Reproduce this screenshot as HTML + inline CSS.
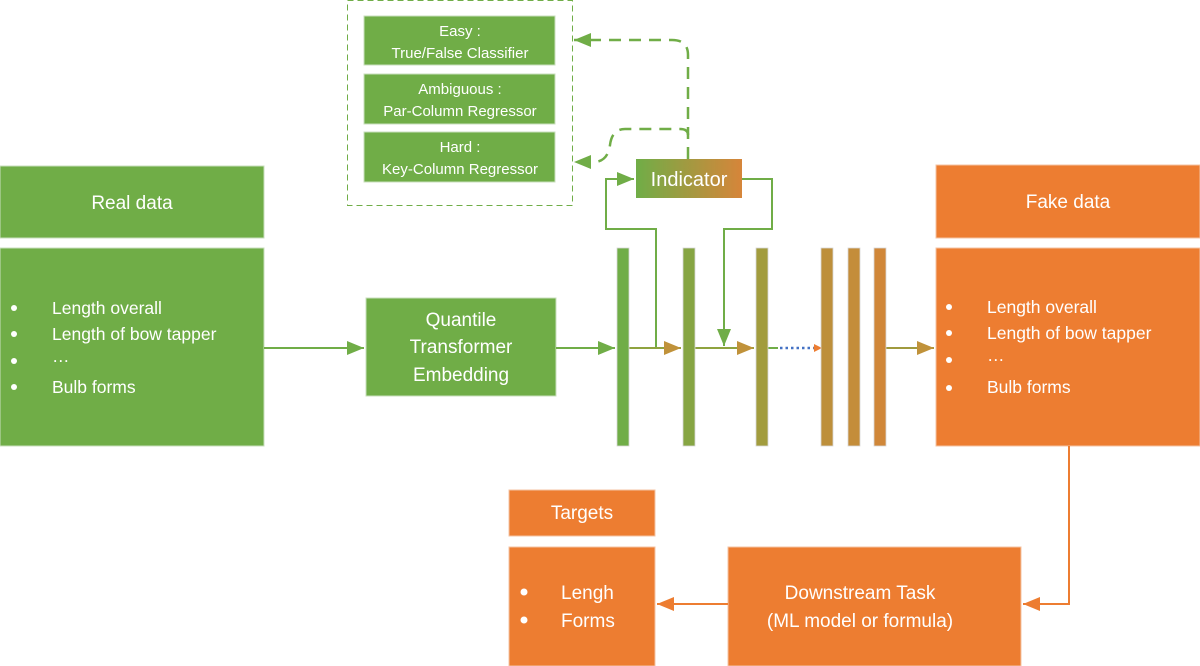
<!DOCTYPE html>
<html><head><meta charset="utf-8"><style>
html,body{margin:0;padding:0;background:#fff}
svg{display:block}
text{font-family:"Liberation Sans",sans-serif;fill:#fff}
</style></head><body>
<svg width="1200" height="666" viewBox="0 0 1200 666" xmlns="http://www.w3.org/2000/svg">
<defs>
<linearGradient id="ind" x1="0" x2="1" y1="0" y2="0"><stop offset="0" stop-color="#70ad47"/><stop offset="1" stop-color="#d6853a"/></linearGradient>
<marker id="ag" markerWidth="10" markerHeight="10" refX="9" refY="5" orient="auto" markerUnits="userSpaceOnUse"><path d="M0,0 L10,5 L0,10 z" fill="#70ad47"/></marker>
<marker id="ag2" markerWidth="18" markerHeight="14" refX="17" refY="7" orient="auto" markerUnits="userSpaceOnUse"><path d="M0,0 L17,7 L0,14 z" fill="#70ad47"/></marker>
<marker id="ay" markerWidth="18" markerHeight="14" refX="17" refY="7" orient="auto" markerUnits="userSpaceOnUse"><path d="M0,0 L17,7 L0,14 z" fill="#c0923a"/></marker>
<marker id="ao" markerWidth="18" markerHeight="14" refX="17" refY="7" orient="auto" markerUnits="userSpaceOnUse"><path d="M0,0 L17,7 L0,14 z" fill="#ed7d31"/></marker>
<marker id="aos" markerWidth="8" markerHeight="8" refX="7" refY="4" orient="auto" markerUnits="userSpaceOnUse"><path d="M0,0 L8,4 L0,8 z" fill="#ed7d31"/></marker>
</defs>

<!-- dashed group -->
<rect x="347.5" y="0.5" width="225" height="205" fill="none" stroke="#70ad47" stroke-dasharray="6,4" stroke-width="1"/>
<rect x="364" y="16" width="191" height="49" fill="#70ad47" stroke="#c9dfbd"/>
<rect x="364" y="74" width="191" height="50" fill="#70ad47" stroke="#c9dfbd"/>
<rect x="364" y="132" width="191" height="50" fill="#70ad47" stroke="#c9dfbd"/>
<g font-size="15" text-anchor="middle">
<text x="460" y="36">Easy :</text><text x="460" y="58">True/False Classifier</text>
<text x="460" y="94">Ambiguous :</text><text x="460" y="116">Par-Column Regressor</text>
<text x="460" y="152">Hard :</text><text x="460" y="174">Key-Column Regressor</text>
</g>

<!-- dashed arrows -->
<path d="M688,159 L688,55 Q688,40 672,40 L574,40" fill="none" stroke="#70ad47" stroke-width="2.5" stroke-dasharray="12,8" marker-end="url(#ag2)"/>
<path d="M688,135 Q688,129 680,129 L625,129 Q612,129 610,145 Q608,160 596,162 L574,162" fill="none" stroke="#70ad47" stroke-width="2.5" stroke-dasharray="12,8" marker-end="url(#ag2)"/>

<!-- indicator -->
<rect x="636" y="159" width="106" height="39" fill="url(#ind)"/>
<text x="689" y="186" font-size="20" text-anchor="middle">Indicator</text>
<path d="M656,348 L656,229 L606,229 L606,179 L634,179" fill="none" stroke="#70ad47" stroke-width="2" marker-end="url(#ag2)"/>
<path d="M742,179 L772,179 L772,229 L724,229 L724,346" fill="none" stroke="#70ad47" stroke-width="2" marker-end="url(#ag2)"/>

<!-- real data -->
<rect x="0" y="166" width="264" height="72" fill="#70ad47" stroke="#c9dfbd"/>
<text x="132" y="209" font-size="19" text-anchor="middle">Real data</text>
<rect x="0" y="248" width="264" height="198" fill="#70ad47" stroke="#c9dfbd"/>
<g font-size="17.5">
<circle cx="14" cy="308" r="3" fill="#fff"/><text x="52" y="314">Length overall</text>
<circle cx="14" cy="334" r="3" fill="#fff"/><text x="52" y="340">Length of bow tapper</text>
<circle cx="14" cy="361" r="3" fill="#fff"/><text x="52" y="362">…</text>
<circle cx="14" cy="387" r="3" fill="#fff"/><text x="52" y="393">Bulb forms</text>
</g>

<!-- quantile -->
<rect x="366" y="298" width="190" height="98" fill="#70ad47" stroke="#c9dfbd"/>
<g font-size="19" text-anchor="middle">
<text x="461" y="326">Quantile</text><text x="461" y="353">Transformer</text><text x="461" y="381">Embedding</text>
</g>

<!-- main line -->
<path d="M264,348 L364,348" stroke="#70ad47" stroke-width="2" marker-end="url(#ag2)"/>
<path d="M556,348 L615,348" stroke="#70ad47" stroke-width="2" marker-end="url(#ag2)"/>
<path d="M629,348 L681,348" stroke="#8fa33f" stroke-width="2" marker-end="url(#ay)"/>
<path d="M695,348 L754,348" stroke="#8fa33f" stroke-width="2" marker-end="url(#ay)"/>
<path d="M768,348 L778,348" stroke="#70ad47" stroke-width="2"/>
<path d="M780,348 L814,348" stroke="#4472c4" stroke-width="2.5" stroke-dasharray="2.5,3"/>
<path d="M813,348 L821,348" stroke="#ed7d31" stroke-width="1" marker-end="url(#aos)"/>
<path d="M886,348 L934,348" stroke="#a09a3e" stroke-width="2" marker-end="url(#ay)"/>

<!-- bars -->
<rect x="617" y="248" width="12" height="198" fill="#70ad47" stroke="#d8d8d8" stroke-width="0.8"/>
<rect x="683" y="248" width="12" height="198" fill="#86a543" stroke="#d8d8d8" stroke-width="0.8"/>
<rect x="756" y="248" width="12" height="198" fill="#a29c3e" stroke="#d8d8d8" stroke-width="0.8"/>
<rect x="821" y="248" width="12" height="198" fill="#bd8f3b" stroke="#d8d8d8" stroke-width="0.8"/>
<rect x="848" y="248" width="12" height="198" fill="#c48d3a" stroke="#d8d8d8" stroke-width="0.8"/>
<rect x="874" y="248" width="12" height="198" fill="#d08739" stroke="#d8d8d8" stroke-width="0.8"/>

<!-- fake data -->
<rect x="936" y="165" width="264" height="73" fill="#ed7d31" stroke="#f4c3a3"/>
<text x="1068" y="208" font-size="19" text-anchor="middle">Fake data</text>
<rect x="936" y="248" width="264" height="198" fill="#ed7d31" stroke="#f4c3a3"/>
<g font-size="17.5">
<circle cx="949" cy="307" r="3" fill="#fff"/><text x="987" y="313">Length overall</text>
<circle cx="949" cy="333" r="3" fill="#fff"/><text x="987" y="339">Length of bow tapper</text>
<circle cx="949" cy="360" r="3" fill="#fff"/><text x="987" y="361">…</text>
<circle cx="949" cy="388" r="3" fill="#fff"/><text x="987" y="393">Bulb forms</text>
</g>

<!-- bottom -->
<path d="M1069,446 L1069,604 L1023,604" fill="none" stroke="#ed7d31" stroke-width="2" marker-end="url(#ao)"/>
<rect x="728" y="547" width="293" height="119" fill="#ed7d31" stroke="#f4c3a3"/>
<text x="860" y="599" font-size="19" text-anchor="middle">Downstream Task</text>
<text x="860" y="627" font-size="19" text-anchor="middle">(ML model or formula)</text>
<path d="M728,604 L657,604" stroke="#ed7d31" stroke-width="2" marker-end="url(#ao)"/>
<rect x="509" y="490" width="146" height="46" fill="#ed7d31" stroke="#f4c3a3"/>
<text x="582" y="519" font-size="19" text-anchor="middle">Targets</text>
<rect x="509" y="547" width="146" height="119" fill="#ed7d31" stroke="#f4c3a3"/>
<g font-size="19">
<circle cx="524" cy="592" r="3.5" fill="#fff"/><text x="561" y="599">Lengh</text>
<circle cx="524" cy="620" r="3.5" fill="#fff"/><text x="561" y="627">Forms</text>
</g>
</svg>
</body></html>
